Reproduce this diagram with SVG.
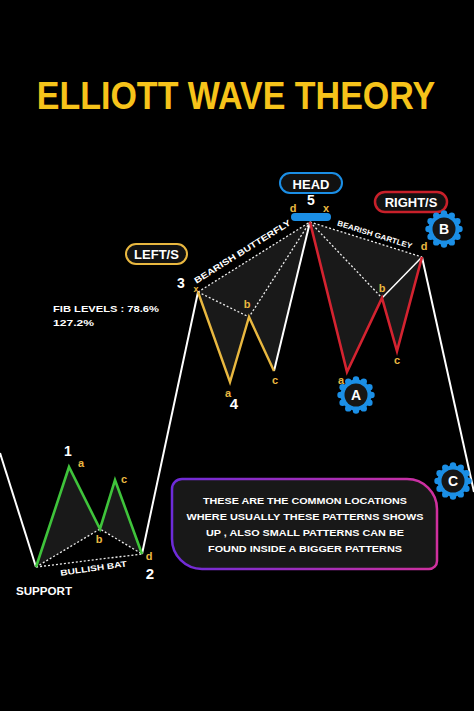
<svg xmlns="http://www.w3.org/2000/svg" width="474" height="711" viewBox="0 0 474 711">
<style>
.w{fill:none;stroke:#fff;stroke-width:2;stroke-linejoin:round}
.dot{fill:none;stroke:#eee;stroke-width:1.3;stroke-dasharray:2 2}
.g{fill:none;stroke:#3fc43b;stroke-width:2.6;stroke-linejoin:miter}
.y{fill:none;stroke:#e9b840;stroke-width:2.4;stroke-linejoin:miter}
.r{fill:none;stroke:#d42330;stroke-width:2.6;stroke-linejoin:miter}
.sh{fill:#191919}
.t{font-family:"Liberation Sans",Arial,sans-serif;font-weight:bold;fill:#fff}
.yl{font-family:"Liberation Sans",Arial,sans-serif;font-weight:bold;fill:#e9b840;font-size:11px;text-anchor:middle}
.num{font-family:"Liberation Sans",Arial,sans-serif;font-weight:bold;fill:#fff;font-size:16px;text-anchor:middle}
.lab{font-family:"Liberation Sans",Arial,sans-serif;font-weight:bold;fill:#fff;font-size:13px;text-anchor:middle}
.bt{font-family:"Liberation Sans",Arial,sans-serif;font-weight:bold;fill:#fff;font-size:14px;text-anchor:middle}
.box{font-family:"Liberation Sans",Arial,sans-serif;font-weight:bold;fill:#fff;font-size:8.6px;text-anchor:middle}
.sc{fill:#1b8fe6}
</style>
<defs>
<linearGradient id="pg" x1="0" y1="0" x2="1" y2="0">
<stop offset="0" stop-color="#6d2bd9"/>
<stop offset="1" stop-color="#d0309e"/>
</linearGradient>
<g id="badge">
<circle r="15.5" class="sc"/>
<circle cx="15.5" cy="0" r="3.2" class="sc"/>
<circle cx="13.42" cy="7.75" r="3.2" class="sc"/>
<circle cx="7.75" cy="13.42" r="3.2" class="sc"/>
<circle cx="0" cy="15.5" r="3.2" class="sc"/>
<circle cx="-7.75" cy="13.42" r="3.2" class="sc"/>
<circle cx="-13.42" cy="7.75" r="3.2" class="sc"/>
<circle cx="-15.5" cy="0" r="3.2" class="sc"/>
<circle cx="-13.42" cy="-7.75" r="3.2" class="sc"/>
<circle cx="-7.75" cy="-13.42" r="3.2" class="sc"/>
<circle cx="0" cy="-15.5" r="3.2" class="sc"/>
<circle cx="7.75" cy="-13.42" r="3.2" class="sc"/>
<circle cx="13.42" cy="-7.75" r="3.2" class="sc"/>
<circle r="11.5" fill="#161616"/>
</g>
</defs>
<rect width="474" height="711" fill="#000"/>

<g id="title">
<text class="t" font-size="34" style="fill:#f6c31a" text-anchor="middle" transform="translate(236,109) scale(1,1.15)">ELLIOTT WAVE THEORY</text>
</g>

<g id="shading">
<polygon class="sh" points="36,567 69,467 100,529"/>
<polygon class="sh" points="100,529 115,480 142,554"/>
<polygon class="sh" points="198,292 310,222 274,371 249,317"/>
<polygon class="sh" points="198,292 230,382 249,317"/>
<polygon class="sh" points="310,222 422,257 397,351 382,298 347,372"/>
</g>

<g id="connectors">
<polyline class="w" points="0,453 36,567"/>
<polyline class="w" points="142,554 198,292"/>
<polyline class="w" points="274,371 310,222"/>
<polyline class="w" points="422,257 474,492"/>
<polyline class="dot" points="36,567 100,529 142,554 36,567"/>
<polyline class="dot" points="198,292 310,222"/>
<polyline class="dot" points="198,292 249,317 310,222"/>
<polyline class="dot" points="310,222 422,257"/>
<polyline class="dot" points="310,222 382,298"/>
<polyline class="w" points="382,298 422,257" style="stroke-width:1.5"/>
<polyline class="g" points="36,567 69,467 100,529 115,480 142,554"/>
<polyline class="y" points="198,292 230,382 249,317 274,371"/>
<polyline class="r" points="310,222 347,372 382,298 397,351 422,257"/>
</g>

<g id="head">
<rect x="280" y="173" width="62" height="20" rx="10" fill="#111" stroke="#1b8fe6" stroke-width="2"/>
<text x="311" y="188.5" class="lab">HEAD</text>
<text x="311" y="205" class="num" style="font-size:14px">5</text>
<rect x="291" y="213" width="40" height="8" rx="4" fill="#1b8fe6"/>
<text x="293" y="212" class="yl">d</text>
<text x="326" y="212" class="yl">x</text>
</g>

<g id="lefts">
<rect x="126" y="244" width="61" height="20" rx="10" fill="#111" stroke="#e9b840" stroke-width="2"/>
<text x="156.5" y="259" class="lab">LEFT/S</text>
<text x="181" y="288" class="num" style="font-size:14px">3</text>
<text x="196" y="292" class="yl" style="font-size:9px">x</text>
</g>

<g id="rights">
<rect x="375" y="192" width="72" height="20" rx="10" fill="#111" stroke="#c8202a" stroke-width="2.5"/>
<text x="411" y="207" class="lab">RIGHT/S</text>
</g>

<g id="butterfly-labels">
<text class="t" font-size="8.5" text-anchor="middle" transform="translate(244,254) rotate(-32)" textLength="112" lengthAdjust="spacingAndGlyphs">BEARISH BUTTERFLY</text>
<text x="247" y="308" class="yl">b</text>
<text x="228" y="397" class="yl">a</text>
<text x="234" y="409" class="num" style="font-size:15px">4</text>
<text x="275" y="384" class="yl">c</text>
</g>

<g id="gartley-labels">
<text class="t" font-size="7.5" text-anchor="middle" transform="translate(374,237) rotate(17.5)" textLength="78" lengthAdjust="spacingAndGlyphs">BEARISH GARTLEY</text>
<text x="382" y="292" class="yl">b</text>
<text x="424" y="250" class="yl">d</text>
<text x="397" y="364" class="yl">c</text>
<text x="341" y="384" class="yl">a</text>
</g>

<g id="badgeA"><use href="#badge" x="356" y="395"/><text x="356" y="400" class="bt">A</text></g>
<g id="badgeB"><use href="#badge" x="444" y="229"/><text x="444" y="234" class="bt">B</text></g>
<g id="badgeC"><use href="#badge" x="453" y="481"/><text x="453" y="486" class="bt">C</text></g>

<g id="fib">
<text x="53" y="312" class="t" font-size="9" textLength="106" lengthAdjust="spacingAndGlyphs">FIB LEVELS : 78.6%</text>
<text x="53" y="326" class="t" font-size="9" textLength="41" lengthAdjust="spacingAndGlyphs">127.2%</text>
</g>

<g id="bat-labels">
<text x="68" y="456" class="num" style="font-size:14px">1</text>
<text x="81" y="467" class="yl">a</text>
<text x="124" y="483" class="yl">c</text>
<text x="99" y="543" class="yl">b</text>
<text x="149" y="560" class="yl">d</text>
<text x="150" y="579" class="num" style="font-size:15px">2</text>
<text class="t" font-size="8" text-anchor="middle" transform="translate(94,571) rotate(-8)" textLength="67" lengthAdjust="spacingAndGlyphs">BULLISH BAT</text>
<text x="16" y="595" class="t" font-size="11" textLength="56" lengthAdjust="spacingAndGlyphs">SUPPORT</text>
</g>

<g id="infobox">
<path d="M182,479 H407 A30,30 0 0 1 437,509 V561 A8,8 0 0 1 429,569 H202 A30,30 0 0 1 172,539 V489 A10,10 0 0 1 182,479 Z" fill="#181818" stroke="url(#pg)" stroke-width="2.5"/>
<text x="305" y="504" class="box" textLength="204" lengthAdjust="spacingAndGlyphs">THESE ARE THE COMMON LOCATIONS</text>
<text x="305" y="520" class="box" textLength="237" lengthAdjust="spacingAndGlyphs">WHERE USUALLY THESE PATTERNS SHOWS</text>
<text x="305" y="536" class="box" textLength="198" lengthAdjust="spacingAndGlyphs">UP , ALSO SMALL PATTERNS CAN BE</text>
<text x="305" y="552" class="box" textLength="194" lengthAdjust="spacingAndGlyphs">FOUND INSIDE A BIGGER PATTERNS</text>
</g>
</svg>
